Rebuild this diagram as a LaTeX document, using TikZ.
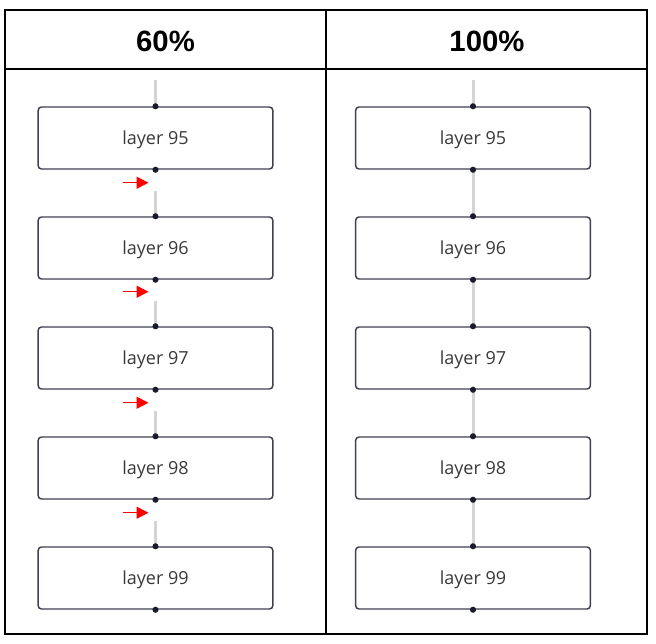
\documentclass[tikz,border=0pt]{standalone}
\usepackage{fontspec}
\setmainfont{Open Sans}
\newfontfamily\headfont{Liberation Sans}
\usetikzlibrary{arrows.meta}
\definecolor{boxline}{RGB}{64,64,80}
\definecolor{dotcol}{RGB}{26,26,46}
\definecolor{linkgray}{RGB}{212,212,212}
\tikzset{
  layerbox/.style={draw=boxline, line width=1.1pt, rounded corners=2.5pt, minimum width=176pt, minimum height=46.5pt, text depth=0pt, font=\fontsize{13.5}{15}\selectfont, text=black!78},
  link/.style={draw=linkgray, line width=2.25pt},
  redarrow/.style={draw=red, line width=1.1pt, -{Triangle[length=9pt,width=9pt]}},
  headtext/.style={font=\headfont\bfseries\fontsize{22}{26}\selectfont},
  tableline/.style={draw=black, line width=1.5pt}
}
\begin{document}
\begin{tikzpicture}[x=0.75pt,y=0.75pt,yscale=-1,xscale=1]
\useasboundingbox (0,0) rectangle (656,643);

%Shape: Table
\draw [tableline] (5,10) rectangle (647,634) ;
\draw [tableline] (5,69) -- (647,69) ;
\draw [tableline] (326,10) -- (326,634) ;
\node [headtext] (h60) at (165.5,41) {60\%};
\node [headtext] (h100) at (487,41) {100\%};

%Shape: Boxes (left column)
\node [layerbox] (l95) at (155.5,138) {layer 95};
\node [layerbox] (l96) at (155.5,248) {layer 96};
\node [layerbox] (l97) at (155.5,358) {layer 97};
\node [layerbox] (l98) at (155.5,468) {layer 98};
\node [layerbox] (l99) at (155.5,578) {layer 99};
%Shape: Boxes (right column)
\node [layerbox] (r95) at (473,138) {layer 95};
\node [layerbox] (r96) at (473,248) {layer 96};
\node [layerbox] (r97) at (473,358) {layer 97};
\node [layerbox] (r98) at (473,468) {layer 98};
\node [layerbox] (r99) at (473,578) {layer 99};

%Straight Lines: inputs
\coordinate (lin) at (155.5,80);
\coordinate (rin) at (473,80);
\draw [link] (lin) -- (l95.north) ;
\draw [link] (rin) -- (r95.north) ;
%Straight Lines: left column, with gaps
\draw [link] ([shift={(0,21)}]l95.south) -- (l96.north) ;
\draw [link] ([shift={(0,21)}]l96.south) -- (l97.north) ;
\draw [link] ([shift={(0,21)}]l97.south) -- (l98.north) ;
\draw [link] ([shift={(0,21)}]l98.south) -- (l99.north) ;
%Straight Lines: right column
\draw [link] (r95.south) -- (r96.north) ;
\draw [link] (r96.south) -- (r97.north) ;
\draw [link] (r97.south) -- (r98.north) ;
\draw [link] (r98.south) -- (r99.north) ;

%Shape: Circles (ports)
\foreach \n in {95,96,97,98,99} {
  \fill [dotcol] (l\n.north) circle (2.3pt) (l\n.south) circle (2.3pt) ;
  \fill [dotcol] (r\n.north) circle (2.3pt) (r\n.south) circle (2.3pt) ;
}

%Straight Lines: red markers
\draw [redarrow] ([shift={(-33,13)}]l95.south) -- ++(26,0) ;
\draw [redarrow] ([shift={(-33,12)}]l96.south) -- ++(26,0) ;
\draw [redarrow] ([shift={(-33,13)}]l97.south) -- ++(26,0) ;
\draw [redarrow] ([shift={(-33,13)}]l98.south) -- ++(26,0) ;
\end{tikzpicture}
\end{document}
